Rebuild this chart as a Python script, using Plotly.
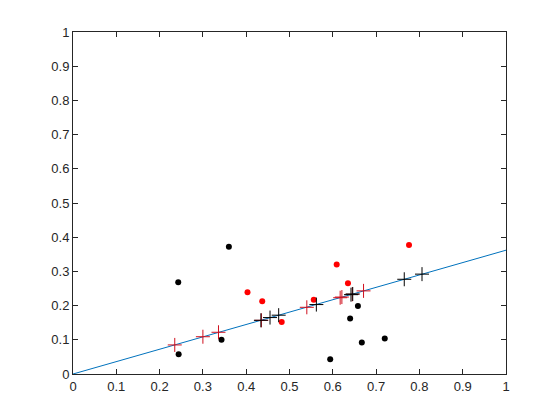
import plotly.graph_objects as go

# fitted line through the origin
line_x = [0, 1]
line_y = [0, 0.362]

# black points
black_x = [0.243, 0.360, 0.244, 0.343, 0.594, 0.640, 0.658, 0.667, 0.720]
black_y = [0.268, 0.372, 0.058, 0.100, 0.043, 0.162, 0.199, 0.092, 0.104]

# red points
red_x = [0.403, 0.437, 0.482, 0.556, 0.609, 0.635, 0.776]
red_y = [0.239, 0.213, 0.152, 0.217, 0.320, 0.265, 0.377]

# projections on the line (red crosses)
red_cross_x = [0.235, 0.300, 0.336, 0.435, 0.540, 0.617, 0.621, 0.645, 0.671]
red_cross_y = [0.085, 0.109, 0.122, 0.157, 0.195, 0.223, 0.225, 0.233, 0.243]

# projections on the line (black crosses)
black_cross_x = [0.434, 0.455, 0.475, 0.562, 0.642, 0.646, 0.765, 0.806]
black_cross_y = [0.157, 0.165, 0.172, 0.203, 0.232, 0.234, 0.277, 0.292]

ticks = [i / 10 for i in range(11)]
tick_text = ["0", "0.1", "0.2", "0.3", "0.4", "0.5", "0.6", "0.7", "0.8", "0.9", "1"]

fig = go.Figure()

fig.add_trace(go.Scatter(x=line_x, y=line_y, mode="lines",
                         line=dict(color="#0072BD", width=1)))

fig.add_trace(go.Scatter(x=black_x, y=black_y, mode="markers",
                         marker=dict(color="black", size=6)))
fig.add_trace(go.Scatter(x=red_x, y=red_y, mode="markers",
                         marker=dict(color="#FF0000", size=6)))

fig.add_trace(go.Scatter(x=red_cross_x, y=red_cross_y, mode="markers",
                         marker=dict(symbol="cross-thin", size=10,
                                     line=dict(color="#D0101E", width=1))))
fig.add_trace(go.Scatter(x=black_cross_x, y=black_cross_y, mode="markers",
                         marker=dict(symbol="cross-thin", size=10,
                                     line=dict(color="black", width=1))))

axis_style = dict(
    range=[0, 1],
    tickvals=ticks,
    ticktext=tick_text,
    ticks="inside",
    ticklen=5,
    tickcolor="#262626",
    showline=True,
    linecolor="#262626",
    linewidth=1,
    mirror="ticks",
    showgrid=False,
    zeroline=False,
    tickfont=dict(family="Liberation Sans", size=13, color="#262626"),
)

fig.update_xaxes(**axis_style)
fig.update_yaxes(**axis_style)

# page body adds 8px offset, so margins are shifted to keep the axes box in place
fig.update_layout(
    width=560,
    height=420,
    showlegend=False,
    plot_bgcolor="white",
    paper_bgcolor="white",
    margin=dict(l=65, r=62, t=24, b=54),
)

fig.write_html("out.html")
